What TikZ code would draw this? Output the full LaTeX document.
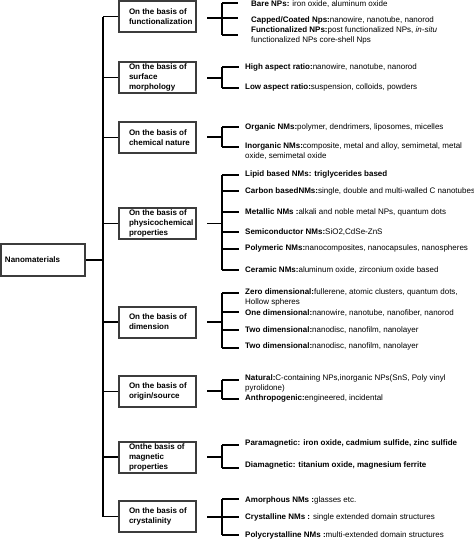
\documentclass[tikz,border=0pt]{standalone}
\usepackage{fontspec}
\setmainfont{Liberation Sans}
\definecolor{boxgray}{HTML}{3C3C3C}
\newcommand\cattext[1]{\hspace*{7pt}\parbox[c]{64pt}{\raggedright\hyphenpenalty=10000 #1}}
\begin{document}
\begin{tikzpicture}[x=1pt,y=-1pt,
  cat/.style={draw=boxgray, line width=2pt, minimum width=77pt, minimum height=31pt,
    inner xsep=3pt, inner ysep=0pt,
    font=\bfseries\fontsize{8}{10}\selectfont},
  root/.style={draw=boxgray, line width=2pt, minimum width=84pt, minimum height=32pt,
    inner xsep=4pt, inner ysep=0pt, text width=76pt, align=left,
    font=\bfseries\fontsize{8}{10}\selectfont},
  leaf/.style={anchor=north west, inner sep=0pt, align=left,
    font=\fontsize{8}{9.5}\selectfont},
  conn/.style={line width=1.3pt, black}]
\useasboundingbox (0,0) rectangle (474,541);

% root
\node[root] (nano) at (43,260) {Nanomaterials};
\coordinate (trunk) at (103,0);

% categories
\node[cat] (c1) at (157.5,16.5) {\cattext{On the basis of\\functionalization}};
\node[cat] (c2) at (157.5,77.5) {\cattext{On the basis of\\surface\\morphology}};
\node[cat] (c3) at (157.5,137.5) {\cattext{On the basis of\\chemical nature}};
\node[cat] (c4) at (157.5,223.5) {\cattext{On the basis of\\physicochemical\\properties}};
\node[cat] (c5) at (157.5,322) {\cattext{On the basis of\\dimension}};
\node[cat] (c6) at (157.5,391.5) {\cattext{On the basis of\\origin/source}};
\node[cat] (c7) at (157.5,457) {\cattext{Onthe basis of\\magnetic\\properties}};
\node[cat] (c8) at (157.5,516.5) {\cattext{On the basis of\\crystalinity}};

% trunk
\draw[conn] (nano.east) -- (nano.east -| trunk);
\draw[conn] (c1.west -| trunk) -- (c8.west -| trunk);
\foreach \c in {c1,c2,c3,c4,c5,c6,c7,c8}
  \draw[conn] (\c.west) -- (\c.west -| trunk);

% leaves G1
\node[leaf] (l1a) at (251,0.8) {\textbf{Bare NPs:} iron oxide, aluminum oxide};
\node[leaf] (l1b) at (251,16.8) {\textbf{Capped/Coated Nps:}nanowire, nanotube, nanorod};
\node[leaf] (l1c) at (251,26.8) {\textbf{Functionalized NPs:}post functionalized NPs, \textit{in-situ}\\functionalized NPs core-shell Nps};
% G2
\node[leaf] (l2a) at (245,63.8) {\textbf{High aspect ratio:}nanowire, nanotube, nanorod};
\node[leaf] (l2b) at (245,83.8) {\textbf{Low aspect ratio:}suspension, colloids, powders};
% G3
\node[leaf] (l3a) at (245,123.8) {\textbf{Organic NMs:}polymer, dendrimers, liposomes, micelles};
\node[leaf] (l3b) at (245,142.8) {\textbf{Inorganic NMs:}composite, metal and alloy, semimetal, metal\\oxide, semimetal oxide};
% G4
\node[leaf] (l4a) at (245,170.8) {\textbf{Lipid based NMs: triglycerides based}};
\node[leaf] (l4b) at (245,187.8) {\textbf{Carbon basedNMs:}single, double and multi-walled C nanotubes};
\node[leaf] (l4c) at (245,208.8) {\textbf{Metallic NMs :}alkali and noble metal NPs, quantum dots};
\node[leaf] (l4d) at (245,228.8) {\textbf{Semiconductor NMs:}SiO2,CdSe-ZnS};
\node[leaf] (l4e) at (245,244.8) {\textbf{Polymeric NMs:}nanocomposites, nanocapsules, nanospheres};
\node[leaf] (l4f) at (245,266.8) {\textbf{Ceramic NMs:}aluminum oxide, zirconium oxide based};
% G5
\node[leaf] (l5a) at (245,288.8) {\textbf{Zero dimensional:}fullerene, atomic clusters, quantum dots,\\Hollow spheres};
\node[leaf] (l5b) at (245,309.8) {\textbf{One dimensional:}nanowire, nanotube, nanofiber, nanorod};
\node[leaf] (l5c) at (245,326.8) {\textbf{Two dimensional:}nanodisc, nanofilm, nanolayer};
\node[leaf] (l5d) at (245,342.8) {\textbf{Two dimensional:}nanodisc, nanofilm, nanolayer};
% G6
\node[leaf] (l6a) at (245,374.8) {\textbf{Natural:}C-containing NPs,inorganic NPs(SnS, Poly vinyl\\pyrolidone)};
\node[leaf] (l6b) at (245,394.8) {\textbf{Anthropogenic:}engineered, incidental};
% G7
\node[leaf] (l7a) at (245,439.8) {\textbf{Paramagnetic: iron oxide, cadmium sulfide, zinc sulfide}};
\node[leaf] (l7b) at (245,461.8) {\textbf{Diamagnetic: titanium oxide, magnesium ferrite}};
% G8
\node[leaf] (l8a) at (245,496.8) {\textbf{Amorphous NMs :}glasses etc.};
\node[leaf] (l8b) at (245,513.8) {\textbf{Crystalline NMs :} single extended domain structures};
\node[leaf] (l8c) at (245,531.8) {\textbf{Polycrystalline NMs :}multi-extended domain structures};

% bracket coordinates: group, joint y, tick ys
\foreach \g/\jy/\top/\bot in {1/18/3/35, 2/78/67/88, 3/137/127/147, 4/223.5/175/270,
    5/322/293/348, 6/391/380/399, 7/457/445/468, 8/517/499/535}{
  \coordinate (j\g) at (222,\jy);
  \coordinate (bt\g) at (222,\top);
  \coordinate (bb\g) at (222,\bot);
  \draw[conn] ([xshift=10pt]c\g.east |- j\g) -- (j\g);
  \draw[conn] (bt\g) -- (bb\g);
}
% ticks
\foreach \l/\g/\ty/\gap in {l1a/1/3/13, l1b/1/18/13, l1c/1/35/13,
    l2a/2/67/6, l2b/2/88/6,
    l3a/3/127/6, l3b/3/147/6,
    l4a/4/175/6, l4b/4/191/6, l4c/4/212/6, l4d/4/232/6, l4e/4/249/6, l4f/4/270/6,
    l5a/5/293/6, l5b/5/312/6, l5c/5/330/6, l5d/5/348/6,
    l6a/6/380/6, l6b/6/399/6,
    l7a/7/445/6, l7b/7/468/6,
    l8a/8/499/6, l8b/8/517/6, l8c/8/535/6}{
  \coordinate (t-\l) at (222,\ty);
  \draw[conn] (t-\l) -- ([xshift=-\gap pt]\l.west |- t-\l);
}
\end{tikzpicture}
\end{document}
